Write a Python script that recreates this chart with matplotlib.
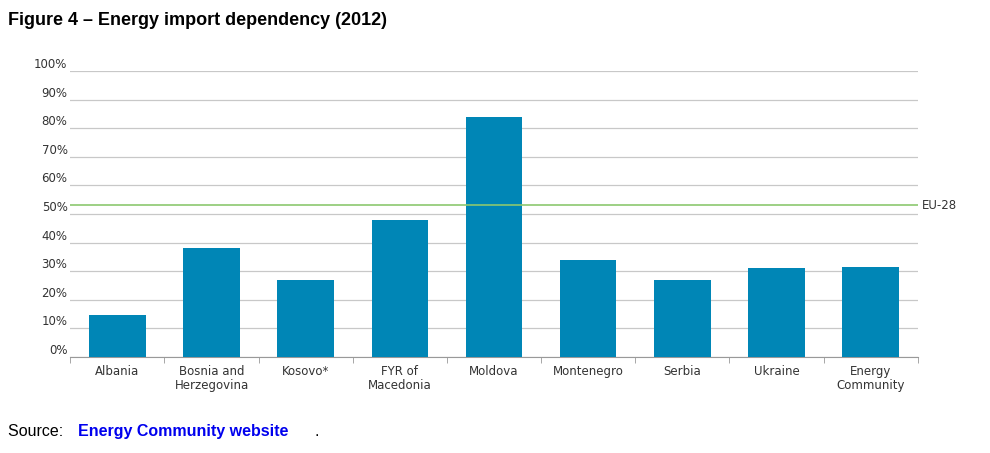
import matplotlib.pyplot as plt
import numpy as np

categories = ["Albania", "Bosnia and\nHerzegovina", "Kosovo*", "FYR of\nMacedonia", "Moldova",
              "Montenegro", "Serbia", "Ukraine", "Energy\nCommunity"]
values = [14.7, 38, 27, 48, 84, 34, 27, 31, 31.5]
eu28 = 53
yticks = np.arange(0, 101, 10)

fig = plt.figure(figsize=(9.9, 4.53), dpi=100)
ax = fig.add_axes([0.071, 0.212, 0.856, 0.631])

x = np.arange(len(categories))
ax.bar(x, values, width=0.6, color="#0086b6", zorder=3)
ax.axhline(eu28, color="#8cc870", lw=1.2, zorder=4)
ax.text(1.005, eu28, "EU-28", transform=ax.get_yaxis_transform(), va="center",
        fontsize=8.5, color="#333333")

ax.set_xlim(-0.5, len(categories) - 0.5)
ax.set_ylim(0, 100)
ax.set_yticks(yticks)
ax.set_yticklabels([f"{v}%" for v in yticks], fontsize=8.5, color="#333333", va="bottom")
ax.tick_params(axis="y", length=0, pad=2)
ax.grid(axis="y", color="#c8c8c8", lw=0.9, zorder=0)
ax.set_xticks(x)
ax.set_xticklabels(categories, fontsize=8.5, color="#333333", linespacing=1.1)
ax.set_xticks(np.arange(-0.5, len(categories)), minor=True)
ax.tick_params(axis="x", which="major", length=0, pad=6)
ax.tick_params(axis="x", which="minor", length=4, color="#999999")
for s in ["top", "right", "left"]:
    ax.spines[s].set_visible(False)
ax.spines["bottom"].set_color("#999999")

fig.text(0.008, 0.955, "Figure 4 \u2013 Energy import dependency (2012)", fontsize=13,
         fontweight="bold", family="Liberation Sans", va="center")
fig.text(0.008, 0.047, "Source: ", fontsize=11.5, family="Liberation Sans", va="center")
fig.text(0.079, 0.047, "Energy Community website", fontsize=11.5, family="Liberation Sans",
         va="center", color="#0000ee", fontweight="bold")
fig.text(0.318, 0.047, ".", fontsize=11.5, family="Liberation Sans", va="center")

fig.savefig("out.png", dpi=100)
